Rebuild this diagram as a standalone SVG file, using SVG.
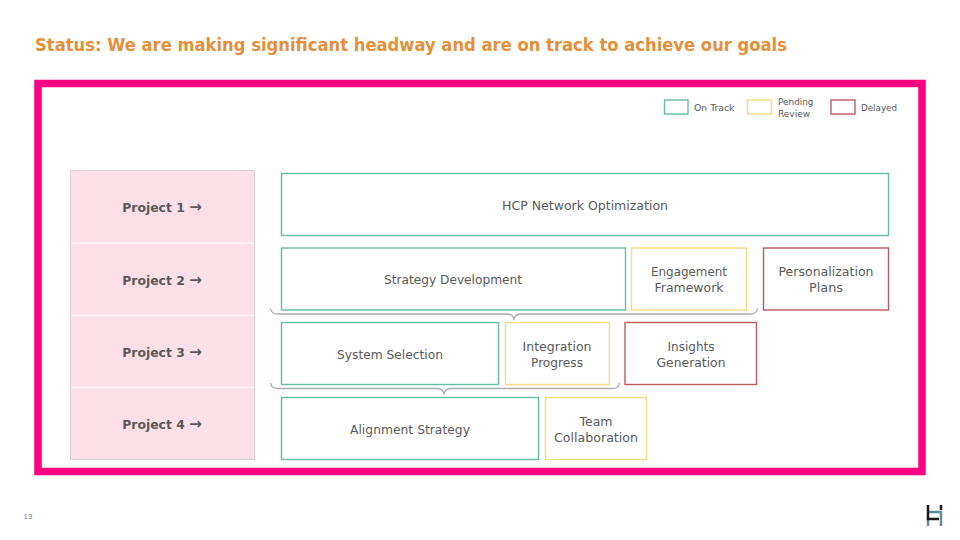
<svg xmlns="http://www.w3.org/2000/svg" width="960" height="540" viewBox="0 0 960 540">
<style>
text{font-family:"DejaVu Sans","Liberation Sans",sans-serif;fill:#595959;text-anchor:middle}
.title{font-size:18.5px;font-weight:700;fill:#E48F3A;text-anchor:start}
.box{fill:#fff;stroke-width:1.4}
.g{stroke:#66BC9F}.y{stroke:#F6DA7C}.r{stroke:#BC5A5F}
.lbl{font-size:12.6px}
.proj{font-size:12.4px;font-weight:700}
.arr{font-size:15px}
.leg{font-size:9.2px;text-anchor:start}
.brace{fill:none;stroke:#ABABAB;stroke-width:1.3}
</style>
<rect width="960" height="540" fill="#fff"/>
<text class="title" x="35" y="51" textLength="752" lengthAdjust="spacingAndGlyphs">Status: We are making significant headway and are on track to achieve our goals</text>
<rect x="38" y="83.500" width="884" height="388" fill="none" stroke="#FF0080" stroke-width="7.500"/>
<g id="legend">
<rect class="box g" x="664.500" y="100" width="23.500" height="14"/>
<text class="leg" x="694" y="111" textLength="40.500" lengthAdjust="spacingAndGlyphs">On Track</text>
<rect class="box y" x="747.500" y="100" width="24" height="14"/>
<text class="leg" x="778" y="105" textLength="35.500" lengthAdjust="spacingAndGlyphs">Pending</text>
<text class="leg" x="778" y="117" textLength="32" lengthAdjust="spacingAndGlyphs">Review</text>
<rect class="box r" x="831" y="100" width="24" height="14"/>
<text class="leg" x="861" y="111" textLength="36" lengthAdjust="spacingAndGlyphs">Delayed</text>
</g>
<g id="project-column">
<rect x="70.500" y="170.500" width="184" height="289" fill="#FDE0E7" stroke="#DCCDD3" stroke-width="1"/>
<path d="M71 243H254M71 315.500H254M71 387.500H254" stroke="#FFF3F6" stroke-width="1.500" fill="none"/>
</g>
<g id="project-1"><text class="proj" x="162" y="212">Project 1 <tspan class="arr">→</tspan></text></g>
<g id="project-2"><text class="proj" x="162" y="285">Project 2 <tspan class="arr">→</tspan></text></g>
<g id="project-3"><text class="proj" x="162" y="357">Project 3 <tspan class="arr">→</tspan></text></g>
<g id="project-4"><text class="proj" x="162" y="429">Project 4 <tspan class="arr">→</tspan></text></g>
<g id="connectors">
<path class="brace" d="M270.500 308.500C271 312 274 314 278 314H507C511 314 513 315.500 514 319C515 315.500 517 314 521 314H750C754 314 757 312 757.500 308.500"/>
<path class="brace" d="M270.500 383C271 386.500 274 388.500 278 388.500H437C441 388.500 443 390 444 394C445 390 447 388.500 451 388.500H612C616 388.500 619 386.500 619.500 383"/>
</g>
<g id="hcp"><rect class="box g" x="281.500" y="173.500" width="607" height="62"/><text class="lbl" x="585" y="210" textLength="166" lengthAdjust="spacingAndGlyphs">HCP Network Optimization</text></g>
<g id="strategy"><rect class="box g" x="281.500" y="248" width="344" height="62"/><text class="lbl" x="453" y="284" textLength="138" lengthAdjust="spacingAndGlyphs">Strategy Development</text></g>
<g id="engagement"><rect class="box y" x="631.500" y="248" width="115" height="62"/><text class="lbl" x="689" y="276" textLength="76" lengthAdjust="spacingAndGlyphs">Engagement</text><text class="lbl" x="689" y="292" textLength="69" lengthAdjust="spacingAndGlyphs">Framework</text></g>
<g id="personalization"><rect class="box r" x="763.500" y="248" width="125" height="62"/><text class="lbl" x="826" y="276" textLength="95" lengthAdjust="spacingAndGlyphs">Personalization</text><text class="lbl" x="826" y="292" textLength="34" lengthAdjust="spacingAndGlyphs">Plans</text></g>
<g id="system"><rect class="box g" x="281.500" y="322.500" width="217" height="62"/><text class="lbl" x="390" y="359" textLength="106" lengthAdjust="spacingAndGlyphs">System Selection</text></g>
<g id="integration"><rect class="box y" x="505.500" y="322.500" width="104" height="62"/><text class="lbl" x="557" y="351" textLength="69" lengthAdjust="spacingAndGlyphs">Integration</text><text class="lbl" x="557" y="367" textLength="52" lengthAdjust="spacingAndGlyphs">Progress</text></g>
<g id="insights"><rect class="box r" x="625" y="322.500" width="131.500" height="62"/><text class="lbl" x="691" y="351" textLength="47" lengthAdjust="spacingAndGlyphs">Insights</text><text class="lbl" x="691" y="367" textLength="69" lengthAdjust="spacingAndGlyphs">Generation</text></g>
<g id="alignment"><rect class="box g" x="281.500" y="397.500" width="257" height="62"/><text class="lbl" x="410" y="434" textLength="120" lengthAdjust="spacingAndGlyphs">Alignment Strategy</text></g>
<g id="team"><rect class="box y" x="545.500" y="397.500" width="101" height="62"/><text class="lbl" x="596" y="426" textLength="33" lengthAdjust="spacingAndGlyphs">Team</text><text class="lbl" x="596" y="442" textLength="84" lengthAdjust="spacingAndGlyphs">Collaboration</text></g>
<text x="28" y="519" style="font-size:8px;fill:#7F7F7F;font-family:'Liberation Sans',sans-serif">13</text>
<g id="logo" fill="none" stroke-width="2.500">
<path d="M928 512H941V526M928 519V526" stroke="#5E8C9A"/>
<path d="M928 505V519H939M941 505V510" stroke="#1A1A1A"/>
</g>
</svg>
